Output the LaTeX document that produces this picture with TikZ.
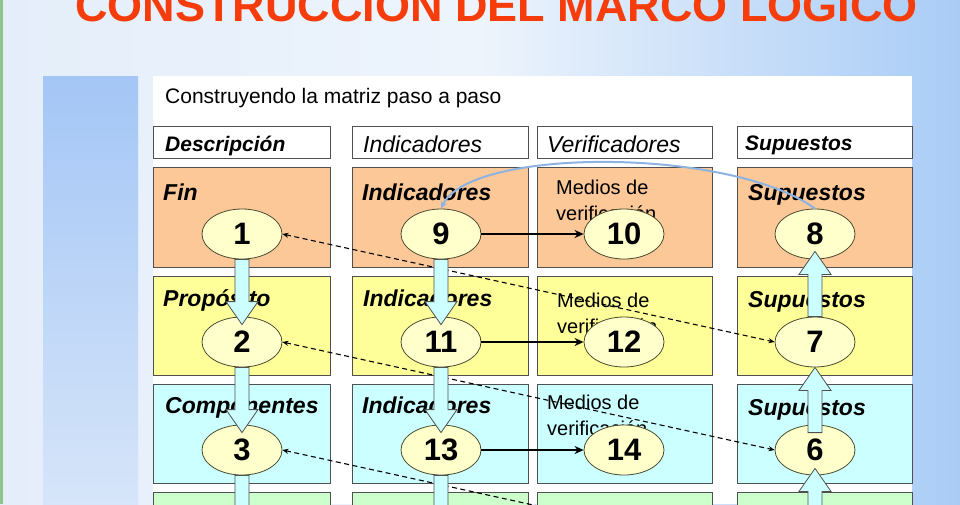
\documentclass[tikz,border=0pt]{standalone}
\usepackage{fontspec}
\setmainfont{Liberation Sans}
\usetikzlibrary{calc,arrows.meta,shapes.geometric}

\definecolor{titlered}{HTML}{F53C0A}
\definecolor{bgleft}{HTML}{E4EEFA}
\definecolor{bgmid}{HTML}{EDF4FC}
\definecolor{bgright}{HTML}{A9CCF6}
\definecolor{bandtop}{HTML}{A4C6F6}
\definecolor{bandbot}{HTML}{D6E5F9}
\definecolor{finfill}{HTML}{FCC898}
\definecolor{propfill}{HTML}{FFFF99}
\definecolor{compfill}{HTML}{CCFFFF}
\definecolor{actfill}{HTML}{CCFFCC}
\definecolor{ovalfill}{HTML}{FFFFCC}
\definecolor{ovaledge}{HTML}{4A4A30}
\definecolor{celledge}{HTML}{505050}
\definecolor{curveblue}{HTML}{8DB3E2}
\definecolor{stripgreen}{HTML}{8FC48F}

% broad arrow from #1 to #2 (tip at #2)
\newcommand{\fatarrow}[2]{%
  \coordinate (fa-s) at (#1);
  \coordinate (fa-e) at (#2);
  \coordinate (fa-h) at ($(fa-e)!23pt!(fa-s)$);
  \draw [fat arrow] ($(fa-s)!7pt!90:(fa-e)$) -- ($(fa-h)!7pt!90:(fa-e)$)
        -- ($(fa-h)!16pt!90:(fa-e)$) -- (fa-e) -- ($(fa-h)!16pt!-90:(fa-e)$)
        -- ($(fa-h)!7pt!-90:(fa-e)$) -- ($(fa-s)!7pt!-90:(fa-e)$) -- cycle;
}

\begin{document}
\begin{tikzpicture}[x=1pt, y=-1pt,
    >={Stealth[length=6pt, width=5pt]},
    cell/.style={draw=celledge, line width=0.9pt},
    lbl/.style={anchor=base west, inner sep=0pt,
      font=\fontsize{23}{26}\selectfont\bfseries\itshape},
    hdr/.style={anchor=base west, inner sep=0pt,
      font=\fontsize{23}{26}\selectfont\itshape},
    bold hdr/.style={anchor=base west, inner sep=0pt,
      font=\fontsize{21}{24}\selectfont\bfseries\itshape},
    medios/.style={anchor=north west, inner sep=0pt, align=left,
      font=\fontsize{20}{26}\selectfont},
    oval/.style={ellipse, draw=ovaledge, line width=0.8pt, fill=ovalfill,
      minimum width=80pt, minimum height=50pt, inner sep=0pt,
      font=\fontsize{31}{31}\selectfont\bfseries},
    fat arrow/.style={draw=celledge, line width=0.8pt, fill=compfill},
    link/.style={line width=1.8pt, -{Stealth[length=9pt, width=8pt]}},
    trace/.style={line width=1.1pt, dash pattern=on 5pt off 3.5pt},
    loop back/.style={draw=curveblue, line width=2pt,
      -{Stealth[length=7pt, width=6pt]}}]
  \useasboundingbox (0, 0) rectangle (960, 504);
  \clip (0, 0) rectangle (960, 504);

  % Background
  \shade [left color=bgleft, right color=bgright, middle color=bgmid]
        (0, 0) rectangle (960, 504);
  \fill [stripgreen] (0, 0) rectangle (3, 504);
  \shade [top color=bandtop, bottom color=bandbot] (43, 76) rectangle (138, 504);
  \fill [white] (153, 76) rectangle (912, 504);

  % Title
  \node [anchor=base west, inner sep=0pt, text=titlered,
    font=\fontsize{45}{45}\selectfont\bfseries] (title) at (75, 21)
    {CONSTRUCCIÓN DEL MARCO LÓGICO};
  \node [anchor=base west, inner sep=0pt, font=\fontsize{21}{24}\selectfont]
    (subtitle) at (165, 103) {Construyendo la matriz paso a paso};

  % Column headers
  \draw [cell, fill=white] (153, 126) rectangle (330, 158);
  \draw [cell, fill=white] (352, 126) rectangle (528, 158);
  \draw [cell, fill=white] (537, 126) rectangle (712, 158);
  \draw [cell, fill=white] (737, 126) rectangle (912, 158);
  \node [bold hdr] (h-desc) at (165, 151) {Descripción};
  \node [hdr] (h-ind) at (363, 152) {Indicadores};
  \node [hdr] (h-ver) at (547, 152) {Verificadores};
  \node [bold hdr] (h-sup) at (745, 150) {Supuestos};

  % Fin
  \draw [cell, fill=finfill] (153, 167) rectangle (330, 267);
  \draw [cell, fill=finfill] (352, 167) rectangle (528, 267);
  \draw [cell, fill=finfill] (537, 167) rectangle (712, 267);
  \draw [cell, fill=finfill] (737, 167) rectangle (912, 267);
  \node [lbl] (l-fin) at (163, 200) {Fin};
  \node [lbl] (l-ind1) at (362, 200) {Indicadores};
  \node [medios] (l-med1) at (556, 180) {Medios de\\verificación};
  \node [lbl] (l-sup1) at (748, 200) {Supuestos};

  % Proposito
  \draw [cell, fill=propfill] (153, 276) rectangle (330, 375);
  \draw [cell, fill=propfill] (352, 276) rectangle (528, 375);
  \draw [cell, fill=propfill] (537, 276) rectangle (712, 375);
  \draw [cell, fill=propfill] (737, 276) rectangle (912, 375);
  \node [lbl] (l-prop) at (163, 306) {Propósito};
  \node [lbl] (l-ind2) at (363, 306) {Indicadores};
  \node [medios] (l-med2) at (557, 293) {Medios de\\verificación};
  \node [lbl] (l-sup2) at (748, 307) {Supuestos};

  % Componentes
  \draw [cell, fill=compfill] (153, 384) rectangle (330, 483);
  \draw [cell, fill=compfill] (352, 384) rectangle (528, 483);
  \draw [cell, fill=compfill] (537, 384) rectangle (712, 483);
  \draw [cell, fill=compfill] (737, 384) rectangle (912, 483);
  \node [lbl] (l-comp) at (165, 413) {Componentes};
  \node [lbl] (l-ind3) at (362, 413) {Indicadores};
  \node [medios] (l-med3) at (547, 395) {Medios de\\verificación};
  \node [lbl] (l-sup3) at (748, 415) {Supuestos};

  % Actividades (cut off)
  \draw [cell, fill=actfill] (153, 492) rectangle (330, 600);
  \draw [cell, fill=actfill] (352, 492) rectangle (528, 600);
  \draw [cell, fill=actfill] (537, 492) rectangle (712, 600);
  \draw [cell, fill=actfill] (737, 492) rectangle (912, 600);

  % Steps
  \node [oval] (e1) at (242, 234) {1};
  \node [oval] (e9) at (441, 234) {9};
  \node [oval] (e10) at (624, 234) {10};
  \node [oval] (e8) at (815, 234) {8};
  \node [oval] (e2) at (242, 342) {2};
  \node [oval] (e11) at (441, 342) {11};
  \node [oval] (e12) at (624, 342) {12};
  \node [oval] (e7) at (815, 342) {7};
  \node [oval] (e3) at (242, 450) {3};
  \node [oval] (e13) at (441, 450) {13};
  \node [oval] (e14) at (624, 450) {14};
  \node [oval] (e6) at (815, 450) {6};
  \coordinate (b3) at (242, 575);
  \coordinate (b13) at (441, 575);
  \coordinate (b6) at (815, 575);
  \coordinate (e5w) at (775, 558);

  % Dashed links
  \draw [trace, <->] (e1.east) -- (e7.west);
  \draw [trace, <->] (e2.east) -- (e6.west);
  \draw [trace, <-] (e3.east) -- (e5w);

  % Indicators to means
  \draw [link] (e9.east) -- (e10.west);
  \draw [link] (e11.east) -- (e12.west);
  \draw [link] (e13.east) -- (e14.west);

  % Broad arrows
  \fatarrow{e1.south}{$(e2.north)+(0,8)$}
  \fatarrow{e2.south}{$(e3.north)+(0,8)$}
  \fatarrow{e3.south}{b3}
  \fatarrow{e9.south}{$(e11.north)+(0,8)$}
  \fatarrow{e11.south}{$(e13.north)+(0,8)$}
  \fatarrow{e13.south}{b13}
  \fatarrow{b6}{$(e6.south)+(0,-7)$}
  \fatarrow{$(e6.north)+(0,8)$}{e7.south}
  \fatarrow{e7.north}{$(e8.south)+(0,-8)$}

  % From Supuestos back to Indicadores
  \draw [loop back] (e8.north) .. controls (730, 147) and (470, 147) .. (e9.north);
\end{tikzpicture}
\end{document}
